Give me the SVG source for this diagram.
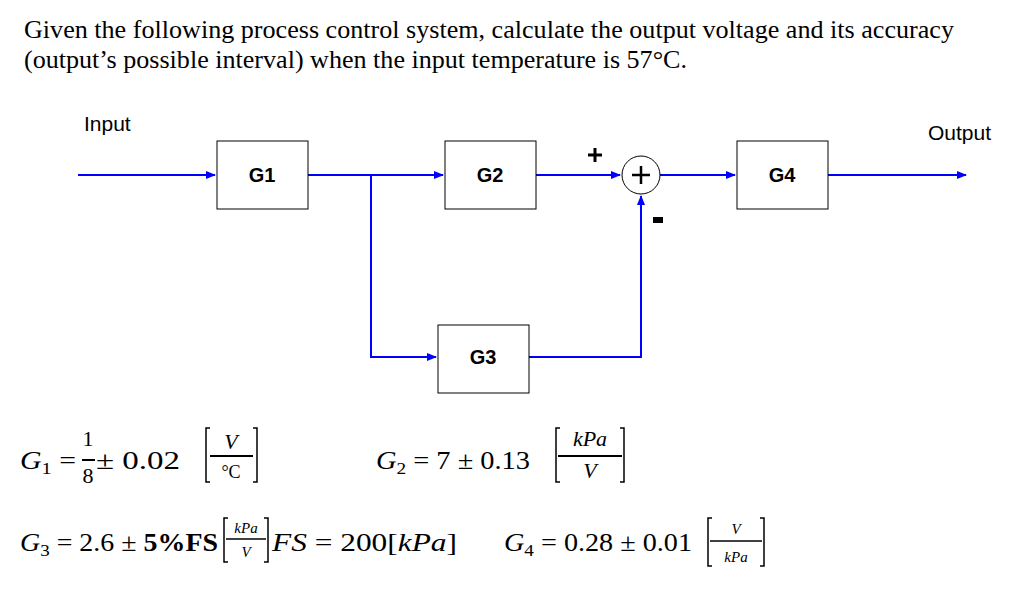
<svg xmlns="http://www.w3.org/2000/svg" width="1024" height="616" viewBox="0 0 1024 616">
<style>
.t{font-family:"Liberation Serif",serif;font-size:25px;fill:#000}
.s{font-family:"Liberation Sans",Arial,sans-serif;font-size:21px;fill:#000}
.b{font-family:"Liberation Sans",Arial,sans-serif;font-size:20px;font-weight:bold;fill:#000}
.box{fill:#fff;stroke:#000;stroke-width:1}
.c{fill:none;stroke:#00f;stroke-width:2}
.m{font-family:"Liberation Serif",serif;font-size:25px;fill:#000}
.ms{font-family:"Liberation Serif",serif;fill:#000}
.i{font-style:italic}
.br{fill:none;stroke:#000;stroke-width:1.5}
</style>
<defs><marker id="a" markerWidth="10" markerHeight="8" refX="9" refY="4" orient="auto" markerUnits="userSpaceOnUse"><path d="M0,0L10,4L0,8z" fill="#00f"/></marker></defs>
<rect width="1024" height="616" fill="#fff"/>
<text class="t" x="24" y="38" textLength="930" lengthAdjust="spacingAndGlyphs">Given the following process control system, calculate the output voltage and its accuracy</text>
<text class="t" x="24" y="68" textLength="663" lengthAdjust="spacingAndGlyphs">(output’s possible interval) when the input temperature is 57°C.</text>
<text class="s" x="84" y="131">Input</text>
<text class="s" x="928" y="140">Output</text>
<g id="connectors">
<path class="c" d="M78,175H215" marker-end="url(#a)"/>
<path class="c" d="M308,175H443" marker-end="url(#a)"/>
<path class="c" d="M371,175V357H436" marker-end="url(#a)"/>
<path class="c" d="M536,175H620" marker-end="url(#a)"/>
<path class="c" d="M529,357H641V196" marker-end="url(#a)"/>
<path class="c" d="M660,175H735" marker-end="url(#a)"/>
<path class="c" d="M828,175H966" marker-end="url(#a)"/>
</g>
<g id="G1"><rect class="box" x="217" y="141" width="91" height="68"/><text class="b" x="262" y="182" text-anchor="middle">G1</text></g>
<g id="G2"><rect class="box" x="445" y="141" width="91" height="68"/><text class="b" x="490" y="182" text-anchor="middle">G2</text></g>
<g id="G3"><rect class="box" x="438" y="325" width="91" height="68"/><text class="b" x="483" y="364" text-anchor="middle">G3</text></g>
<g id="G4"><rect class="box" x="737" y="141" width="91" height="68"/><text class="b" x="782" y="182" text-anchor="middle">G4</text></g>
<g id="sum"><circle cx="641" cy="175" r="19" fill="#fff" stroke="#000"/><path d="M632,175H650M641,166V184" stroke="#000" stroke-width="2.5"/></g>
<path d="M588,155H602M595,148V162" stroke="#000" stroke-width="3"/>
<rect x="653" y="217" width="10" height="6" fill="#000"/>
<!-- equations -->
<text class="m" x="20" y="469" textLength="56" lengthAdjust="spacingAndGlyphs"><tspan class="i">G</tspan><tspan style="font-size:17px" dy="5">1</tspan><tspan dy="-5"> =</tspan></text>
<text class="ms" x="88" y="446" style="font-size:22px" text-anchor="middle">1</text>
<line x1="82" y1="460" x2="95" y2="460" stroke="#000" stroke-width="2"/>
<text class="ms" x="88" y="483" style="font-size:22px" text-anchor="middle">8</text>
<text class="m" x="96" y="469" textLength="84" lengthAdjust="spacingAndGlyphs">± 0.02</text>
<path class="br" d="M210,428h-4v54h4M253,428h4v54h-4"/>
<text class="ms i" x="231" y="449" style="font-size:22px" text-anchor="middle">V</text>
<line x1="210" y1="456" x2="253" y2="456" stroke="#000" stroke-width="2"/>
<text class="ms" x="231" y="478" style="font-size:18px" text-anchor="middle">°C</text>
<text class="m" x="376" y="469" textLength="154" lengthAdjust="spacingAndGlyphs"><tspan class="i">G</tspan><tspan style="font-size:17px" dy="5">2</tspan><tspan dy="-5"> = 7 ± 0.13</tspan></text>
<path class="br" d="M560,428h-4v54h4M620,428h4v54h-4"/>
<text class="ms i" x="590" y="446" style="font-size:22px" text-anchor="middle">kPa</text>
<line x1="558" y1="456" x2="622" y2="456" stroke="#000" stroke-width="2"/>
<text class="ms i" x="590" y="478" style="font-size:22px" text-anchor="middle">V</text>
<text class="m" x="20" y="551" textLength="198" lengthAdjust="spacingAndGlyphs"><tspan class="i">G</tspan><tspan style="font-size:17px" dy="5">3</tspan><tspan dy="-5"> = 2.6 ± </tspan><tspan font-weight="bold">5%FS</tspan></text>
<path class="br" d="M228,518h-4v44h4M264,518h4v44h-4"/>
<text class="ms i" x="246" y="533" style="font-size:15px" text-anchor="middle">kPa</text>
<line x1="226" y1="539" x2="266" y2="539" stroke="#000" stroke-width="1.5"/>
<text class="ms i" x="246" y="557" style="font-size:15px" text-anchor="middle">V</text>
<text class="m" x="272" y="551" textLength="185" lengthAdjust="spacingAndGlyphs"><tspan class="i">FS</tspan> = 200[<tspan class="i">kPa</tspan>]</text>
<text class="m" x="504" y="551" textLength="188" lengthAdjust="spacingAndGlyphs"><tspan class="i">G</tspan><tspan style="font-size:17px" dy="5">4</tspan><tspan dy="-5"> = 0.28 ± 0.01</tspan></text>
<path class="br" d="M712,518h-4v48h4M760,518h4v48h-4"/>
<text class="ms i" x="736" y="534" style="font-size:15px" text-anchor="middle">V</text>
<line x1="710" y1="541" x2="762" y2="541" stroke="#000" stroke-width="1.5"/>
<text class="ms i" x="736" y="562" style="font-size:15px" text-anchor="middle">kPa</text>
</svg>
